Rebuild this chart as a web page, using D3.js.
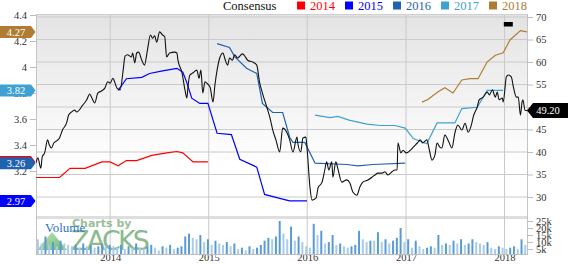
<!DOCTYPE html>
<html>
<head>
<meta charset="utf-8">
<script src="https://cdn.jsdelivr.net/npm/d3@7"></script>
<style>
    body { margin: 0; background: #fff; }
    svg { display: block; font-family: "Liberation Serif", "DejaVu Serif", serif; }
    .axis .domain { display: none; }
    .axis line { stroke: #bdbdbd; }
    .axis text { fill: #333; font-size: 10.5px; font-family: "Liberation Serif", serif; }
</style>
</head>
<body>
<main></main>
<script>
// Data
const years = ['2014', '2015', '2016', '2017', '2018']
const lastEps = [3.27, 2.97, 3.26, 3.82, 4.27]
const lastPrice = 49.20
const priceTicks = [30, 35, 40, 45, 50, 55, 60, 65, 70]
const epsTicks = [3.2, 3.4, 3.6, 3.8, 4.0, 4.2, 4.4]
const volumeTicks = [5, 10, 15, 20, 25]
const events = ['2018-01-15']

const eps2014 = [['2013-04-01',3.15],['2013-06-27',3.15],['2013-08-05',3.22],['2013-09-30',3.22],['2013-12-01',3.27],['2014-01-01',3.27],['2014-01-30',3.24],['2014-03-02',3.28],['2014-04-09',3.28],['2014-06-04',3.32],['2014-07-29',3.34],['2014-09-05',3.35],['2014-09-27',3.34],['2014-11-04',3.27],['2014-12-29',3.27]]
const eps2015 = [['2014-01-30',3.82],['2014-03-02',3.91],['2014-04-28',3.92],['2014-05-27',3.95],['2014-07-14',3.97],['2014-09-05',3.99],['2014-09-27',3.96],['2014-10-12',3.88],['2014-10-30',3.76],['2014-11-29',3.72],['2014-12-29',3.72],['2015-02-01',3.49],['2015-03-26',3.48],['2015-04-26',3.29],['2015-06-28',3.23],['2015-07-27',3.02],['2015-09-21',2.99],['2015-10-28',2.97],['2015-12-31',2.97]]
const eps2016 = [['2015-02-01',4.18],['2015-03-19',4.15],['2015-04-07',4.08],['2015-05-21',3.99],['2015-06-28',3.95],['2015-07-19',3.72],['2015-08-26',3.65],['2015-10-02',3.65],['2015-10-28',3.46],['2015-11-09',3.42],['2015-12-23',3.42],['2016-01-30',3.26],['2016-05-26',3.25],['2016-07-07',3.24],['2016-09-01',3.25],['2016-12-29',3.26]]
const eps2017 = [['2016-01-30',3.63],['2016-03-25',3.61],['2016-04-23',3.62],['2016-06-07',3.59],['2016-08-10',3.56],['2016-09-27',3.55],['2016-11-21',3.55],['2016-12-29',3.53],['2017-01-28',3.45],['2017-03-19',3.41],['2017-04-26',3.57],['2017-07-01',3.57],['2017-07-27',3.68],['2017-09-22',3.69],['2017-10-29',3.82],['2017-12-27',3.82]]
const eps2018 = [['2017-03-01',3.73],['2017-03-23',3.75],['2017-04-30',3.81],['2017-05-25',3.84],['2017-06-24',3.80],['2017-07-27',3.90],['2017-08-26',3.91],['2017-09-25',3.91],['2017-10-29',4.04],['2017-11-28',4.09],['2017-12-27',4.11],['2018-01-22',4.21],['2018-03-01',4.28],['2018-03-25',4.27]]

const price = [['2013-04-01',37.6],['2013-04-08',38.7],['2013-04-19',36.4],['2013-04-24',38.9],['2013-05-03',39.8],['2013-05-14',42.7],['2013-05-20',41.6],['2013-05-28',40.9],['2013-06-06',42.0],['2013-06-15',42.4],['2013-06-27',43.1],['2013-07-08',44.9],['2013-07-23',46.4],['2013-07-31',48.2],['2013-08-11',48.9],['2013-08-22',49.3],['2013-08-30',48.9],['2013-09-21',50.4],['2013-10-06',51.6],['2013-10-17',52.9],['2013-10-25',52.0],['2013-11-05',50.9],['2013-11-16',53.1],['2013-12-01',53.6],['2013-12-12',54.2],['2013-12-23',55.6],['2014-01-01',55.3],['2014-01-11',56.4],['2014-01-19',55.3],['2014-01-26',54.2],['2014-02-07',53.8],['2014-02-18',58.2],['2014-02-25',61.3],['2014-03-06',61.6],['2014-03-21',61.1],['2014-03-25',62.0],['2014-04-02',59.8],['2014-04-09',62.0],['2014-04-16',62.2],['2014-04-28',60.4],['2014-05-08',59.3],['2014-05-19',62.7],['2014-05-30',66.0],['2014-06-07',65.3],['2014-06-15',65.8],['2014-06-22',64.4],['2014-07-03',66.7],['2014-07-14',66.0],['2014-07-22',65.6],['2014-07-29',61.1],['2014-08-09',62.0],['2014-08-28',62.2],['2014-09-05',62.0],['2014-09-09',60.4],['2014-09-24',57.6],['2014-10-05',53.8],['2014-10-12',52.0],['2014-10-16',54.4],['2014-10-23',57.1],['2014-11-04',57.6],['2014-11-18',58.2],['2014-11-26',56.4],['2014-12-03',58.2],['2014-12-10',53.1],['2014-12-18',55.6],['2014-12-25',55.3],['2015-01-06',54.4],['2015-01-17',51.1],['2015-01-24',54.9],['2015-02-01',58.2],['2015-02-12',61.1],['2015-02-23',62.0],['2015-03-01',60.9],['2015-03-12',59.3],['2015-03-19',60.9],['2015-03-30',60.4],['2015-04-07',61.6],['2015-04-18',60.9],['2015-05-06',61.8],['2015-05-17',61.1],['2015-05-25',60.4],['2015-06-13',60.0],['2015-06-28',59.3],['2015-07-08',55.6],['2015-07-19',53.1],['2015-08-04',50.0],['2015-08-18',47.1],['2015-08-26',44.9],['2015-09-07',42.7],['2015-09-21',40.0],['2015-10-02',45.3],['2015-10-17',44.4],['2015-10-28',42.7],['2015-11-09',40.0],['2015-11-24',43.3],['2015-11-27',42.0],['2015-12-08',40.0],['2015-12-16',43.1],['2015-12-27',43.3],['2015-12-31',41.1],['2016-01-11',32.2],['2016-01-19',29.3],['2016-02-03',29.8],['2016-02-10',32.0],['2016-02-25',33.3],['2016-03-06',36.0],['2016-03-13',37.8],['2016-03-21',36.0],['2016-04-01',37.8],['2016-04-05',34.4],['2016-04-16',37.8],['2016-04-23',36.4],['2016-05-08',33.3],['2016-05-26',33.8],['2016-06-07',33.1],['2016-06-18',31.1],['2016-07-03',30.4],['2016-07-14',32.2],['2016-07-25',33.3],['2016-08-13',33.8],['2016-08-28',34.4],['2016-09-08',34.9],['2016-09-19',35.3],['2016-10-04',35.3],['2016-10-15',35.6],['2016-10-26',34.9],['2016-11-10',35.6],['2016-11-21',36.0],['2016-11-29',36.0],['2016-12-02',42.0],['2016-12-13',39.8],['2016-12-21',40.4],['2017-01-02',39.8],['2017-01-17',40.4],['2017-01-28',41.1],['2017-02-12',42.0],['2017-02-23',42.7],['2017-03-04',42.0],['2017-03-19',42.7],['2017-03-30',40.0],['2017-04-07',38.2],['2017-04-18',39.3],['2017-04-26',42.0],['2017-05-06',41.1],['2017-05-14',40.9],['2017-05-25',43.8],['2017-06-02',43.1],['2017-06-09',42.2],['2017-06-20',40.9],['2017-07-01',44.2],['2017-07-12',46.0],['2017-07-27',44.9],['2017-08-08',46.4],['2017-08-19',44.4],['2017-09-03',46.7],['2017-09-07',47.8],['2017-09-22',50.0],['2017-09-29',51.6],['2017-10-14',52.2],['2017-10-29',53.3],['2017-11-06',52.7],['2017-11-17',53.8],['2017-11-28',52.2],['2017-12-05',53.3],['2017-12-12',51.6],['2017-12-24',52.0],['2017-12-27',51.1],['2018-01-08',56.7],['2018-01-15',57.1],['2018-01-26',56.7],['2018-02-03',54.4],['2018-02-14',52.2],['2018-02-21',52.2],['2018-03-01',48.2],['2018-03-07',51.1],['2018-03-10',51.6],['2018-03-18',49.3],['2018-03-27',49.2]]

// volume in thousands, one bar every two weeks from 2013-04-01
const volumeStart = '2013-04-01'
const volumeK = [12, 9, 14, 8, 10, 7, 11, 9, 8,
    7, 8, 6, 9, 7, 8, 6, 7, 9, 7, 8,
    7, 6, 8, 5, 7, 6, 9, 6, 5, 7, 8, 6, 4, 7, 6, 8, 5, 6, 7,
    14, 16, 13, 12, 15,
    10, 12, 8, 11, 9, 8, 10, 7, 9,
    5, 6, 4, 7, 5, 6, 8,
    11, 13, 12, 14, 25,
    16, 12, 21, 11, 14, 10,
    7, 6, 23, 15, 18,
    9, 10, 15, 8, 9,
    7, 6, 7, 8,
    18, 12, 10, 11,
    11, 17, 10, 12, 9, 11,
    13, 20, 10, 12,
    6, 11, 7, 5, 6, 7, 6, 15,
    8, 9, 8, 11, 9, 12, 8, 9,
    12, 10, 9, 8, 10,
    6, 5, 7, 6, 5, 6, 7, 5,
    12, 8]

function GeneratePlot() {
    // Configuration
    const total_width = 568
    const total_height = 264
    const pane = { left: 36, right: 528, top: 14, bottom: 216 }
    const vol = { top: 219, bottom: 254 }
    const colors = ['#ff0000', '#0000ff', '#1f62b0', '#3ea1d2', '#b07c32']
    const series = [eps2014, eps2015, eps2016, eps2017, eps2018]
    const parse = d3.timeParse('%Y-%m-%d')

    const x = d3.scaleTime()
        .domain([parse('2013-04-01'), parse('2018-03-29')])
        .range([pane.left, pane.right])
    const yPrice = d3.scaleLinear().domain([30, 70]).range([197, 17])
    const yEps = d3.scaleLinear().domain([3.0, 4.4]).range([197, 15])
    const yVol = d3.scaleLinear().domain([1.5, 25]).range([vol.bottom, 221])

    const svg = d3.select('main')
        .append('svg')
        .attr('width', total_width)
        .attr('height', total_height)

    const defs = svg.append('defs')
    const grad = defs.append('linearGradient')
        .attr('id', 'bg')
        .attr('x1', 0).attr('x2', 0).attr('y1', 0).attr('y2', 1)
    grad.append('stop').attr('offset', '0%').attr('stop-color', '#e3e3e3')
    grad.append('stop').attr('offset', '75%').attr('stop-color', '#ffffff')
    defs.append('clipPath').attr('id', 'clip')
        .append('rect')
        .attr('x', pane.left).attr('y', pane.top)
        .attr('width', pane.right - pane.left).attr('height', pane.bottom - pane.top)
    const tri = defs.append('linearGradient')
        .attr('id', 'tri')
        .attr('x1', 0).attr('x2', 1).attr('y1', 0).attr('y2', 1)
    tri.append('stop').attr('offset', '0%').attr('stop-color', '#a8dca0')
    tri.append('stop').attr('offset', '100%').attr('stop-color', '#2f9a3c')

    // Panes
    svg.append('rect')
        .attr('x', pane.left).attr('y', pane.top)
        .attr('width', pane.right - pane.left).attr('height', pane.bottom - pane.top)
        .attr('fill', 'url(#bg)')
    svg.append('rect')
        .attr('x', pane.left).attr('y', pane.bottom)
        .attr('width', pane.right - pane.left).attr('height', vol.top - pane.bottom)
        .attr('fill', '#dedede')

    // Grid
    svg.append('g')
        .selectAll('line')
        .data(priceTicks)
        .join('line')
        .attr('x1', pane.left).attr('x2', pane.right)
        .attr('y1', d => yPrice(d)).attr('y2', d => yPrice(d))
        .attr('stroke', '#cacaca')
    const yearDates = years.map(d => parse(d + '-01-01'))
    svg.append('g')
        .selectAll('line')
        .data(yearDates)
        .join('line')
        .attr('x1', d => x(d)).attr('x2', d => x(d))
        .attr('y1', pane.top).attr('y2', vol.bottom)
        .attr('stroke', '#cacaca')

    // Borders
    svg.append('line')
        .attr('x1', pane.left).attr('x2', pane.right)
        .attr('y1', pane.top + 0.5).attr('y2', pane.top + 0.5)
        .attr('stroke', '#cfcfcf')
    svg.append('line')
        .attr('x1', pane.left + 0.5).attr('x2', pane.left + 0.5)
        .attr('y1', pane.top).attr('y2', vol.bottom)
        .attr('stroke', '#c4c4c4')
    svg.append('line')
        .attr('x1', pane.right - 0.5).attr('x2', pane.right - 0.5)
        .attr('y1', pane.top).attr('y2', vol.bottom)
        .attr('stroke', '#c4c4c4')

    // Watermark
    const mark = svg.append('g').attr('opacity', 0.7)
    mark.append('path')
        .attr('d', 'M37,250 L52,232 L67,250 Z')
        .attr('fill', 'url(#tri)')
    mark.append('text')
        .attr('x', 72).attr('y', 227)
        .attr('fill', '#6fa56f')
        .style('font-family', '"DejaVu Sans", sans-serif')
        .style('font-weight', 'bold')
        .style('font-size', '11px')
        .text('Charts by')
    mark.append('text')
        .attr('x', 71).attr('y', 250)
        .attr('fill', '#5a9e5f')
        .style('font-family', '"DejaVu Sans", sans-serif')
        .style('font-size', '27px')
        .attr('textLength', 79)
        .text('ZACKS')

    // Volume
    const volDates = volumeK.map((d, i) => d3.timeDay.offset(parse(volumeStart), 14 * i + 7))
    svg.append('g')
        .selectAll('rect')
        .data(volumeK)
        .join('rect')
        .attr('x', (d, i) => x(volDates[i]) - 1)
        .attr('width', 2)
        .attr('y', d => yVol(d))
        .attr('height', d => vol.bottom - yVol(d))
        .attr('fill', (d, i) => i > 0 && d > volumeK[i - 1] ? '#5a9bd6' : '#a9cbec')

    svg.append('text')
        .attr('x', 45).attr('y', 232)
        .attr('fill', '#2f73c4')
        .style('font-size', '13px')
        .text('Volume')

    // Consensus lines
    const line = d3.line()
        .x(d => x(parse(d[0])))
        .y(d => yEps(d[1]))
    const plot = svg.append('g').attr('clip-path', 'url(#clip)')
    series.forEach((s, i) => {
        plot.append('path')
            .datum(s)
            .attr('d', line)
            .attr('fill', 'none')
            .attr('stroke', colors[i])
            .attr('stroke-width', 1.2)
    })

    // Price
    const priceLine = d3.line()
        .x(d => x(parse(d[0])))
        .y(d => yPrice(d[1]))
        .curve(d3.curveMonotoneX)
    plot.append('path')
        .datum(price)
        .attr('d', priceLine)
        .attr('fill', 'none')
        .attr('stroke', '#111')
        .attr('stroke-width', 1.1)

    // Events
    svg.append('g')
        .selectAll('rect')
        .data(events)
        .join('rect')
        .attr('x', d => x(parse(d)) - 4.5)
        .attr('y', 22)
        .attr('width', 9)
        .attr('height', 4.5)
        .attr('fill', '#000')

    // Axes
    svg.append('g')
        .classed('axis', true)
        .attr('transform', `translate(${pane.right - 1},0)`)
        .call(d3.axisRight(yPrice).tickValues(priceTicks).tickSize(6).tickPadding(3))
    svg.append('g')
        .classed('axis', true)
        .attr('transform', `translate(${pane.right - 1},0)`)
        .call(d3.axisRight(yVol).tickValues(volumeTicks).tickSize(6).tickPadding(3).tickFormat(d => d + 'k'))
    svg.append('g')
        .classed('axis', true)
        .attr('transform', `translate(${pane.left},0)`)
        .call(d3.axisLeft(yEps).tickValues(epsTicks).tickSize(6).tickPadding(3).tickFormat(d => String(+d.toFixed(1))))
    const bottom = svg.append('g')
        .classed('axis', true)
        .attr('transform', `translate(0,${vol.bottom})`)
        .call(d3.axisBottom(x).tickValues(yearDates).tickSize(0).tickPadding(0).tickFormat(d3.timeFormat('%Y')))
    bottom.selectAll('text').style('font-size', '10.5px').attr('fill', '#222')
    svg.append('line')
        .attr('x1', pane.left).attr('x2', pane.right)
        .attr('y1', vol.bottom + 0.5).attr('y2', vol.bottom + 0.5)
        .attr('stroke', '#bdbdbd')

    // Left badges
    const badge = svg.append('g')
    series.forEach((s, i) => {
        const cy = yEps(lastEps[i])
        badge.append('path')
            .attr('d', `M0,${cy - 6} H31 L35.5,${cy} L31,${cy + 6} H0 Z`)
            .attr('fill', colors[i])
        badge.append('text')
            .attr('x', 16).attr('y', cy)
            .attr('dy', '0.35em')
            .attr('text-anchor', 'middle')
            .attr('fill', '#fff')
            .style('font-size', '10.5px')
            .text(lastEps[i].toFixed(2))
    })

    // Right badge
    const py = yPrice(lastPrice)
    svg.append('path')
        .attr('d', `M527,${py} L533,${py - 7.5} H568 V${py + 7.5} H533 Z`)
        .attr('fill', '#000')
    svg.append('text')
        .attr('x', 548).attr('y', py)
        .attr('dy', '0.35em')
        .attr('text-anchor', 'middle')
        .attr('fill', '#fff')
        .style('font-size', '10.5px')
        .text(lastPrice.toFixed(2))

    // Legend
    svg.append('text')
        .attr('x', 223).attr('y', 9.5)
        .attr('fill', '#111')
        .style('font-size', '12.5px')
        .text('Consensus')
    const legend = svg.append('g')
        .selectAll('g')
        .data(years)
        .join('g')
        .attr('transform', (d, i) => `translate(${297 + i * 48},0)`)
    legend.append('rect')
        .attr('y', 1.5)
        .attr('width', 8).attr('height', 8)
        .attr('fill', (d, i) => colors[i])
    legend.append('text')
        .attr('x', 13).attr('y', 9.5)
        .attr('fill', (d, i) => colors[i])
        .style('font-size', '12.5px')
        .text(d => d)
}

GeneratePlot()
</script>
</body>
</html>
